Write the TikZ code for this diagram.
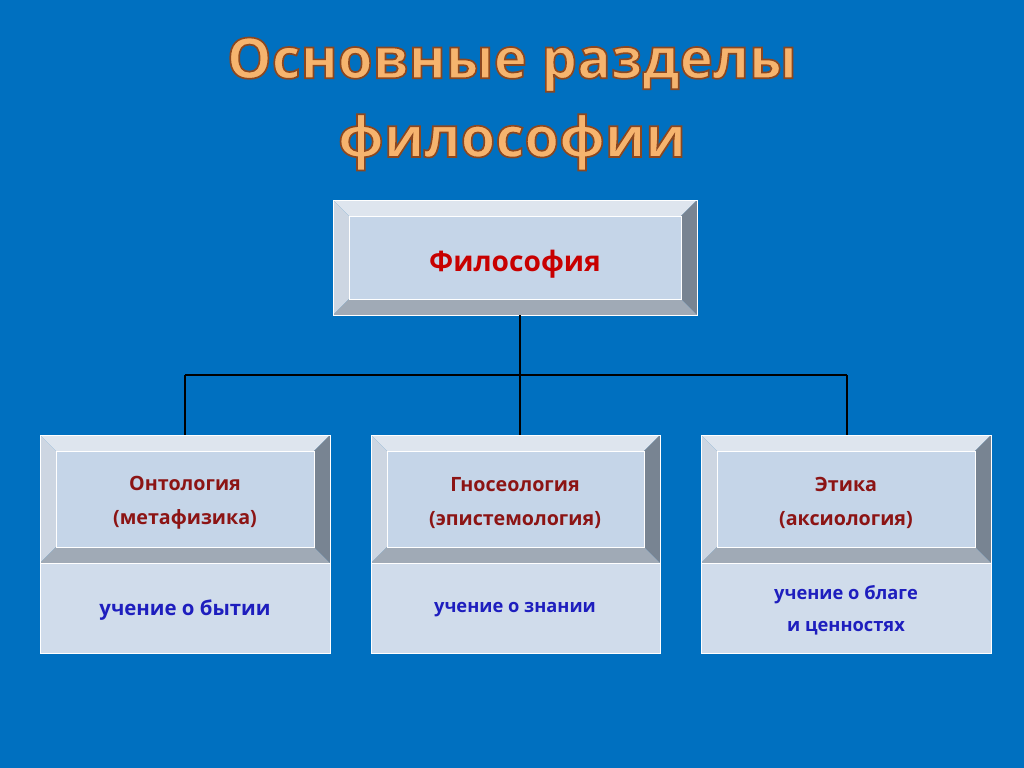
\documentclass[tikz,border=0pt]{standalone}
\usepackage{fontspec}
\setmainfont{Open Sans}
\usetikzlibrary{positioning}
\definecolor{bgblue}{RGB}{0,112,192}
\definecolor{face}{RGB}{197,213,232}
\definecolor{lower}{RGB}{208,220,235}
\definecolor{bvtop}{RGB}{222,229,238}
\definecolor{bvleft}{RGB}{205,214,226}
\definecolor{bvright}{RGB}{120,132,146}
\definecolor{bvbot}{RGB}{160,170,182}
\definecolor{headred}{RGB}{140,20,20}
\definecolor{redtext}{RGB}{200,0,0}
\definecolor{bluetext}{RGB}{30,30,190}
\definecolor{titleor}{RGB}{246,180,110}
\tikzset{
x=0.025cm, y=-0.025cm,
frame/.style={draw=none, inner sep=0pt, outer sep=0pt},
heading/.style={text=headred, font=\bfseries\fontsize{14}{24}\selectfont, align=center},
note/.style={text=bluetext, font=\bfseries\fontsize{13}{23}\selectfont, align=center},
link/.style={line width=1.6pt, black},
}
% outlined title text (fill + stroke)
\newcommand{\outlined}[1]{\special{pdf:literal direct 2 Tr 1.2 w 0.55 0.28 0.12 RG}#1\special{pdf:literal direct 0 Tr}}
% bevelled button: x1,y1,x2,y2,inset
\newcommand{\bevelbox}[5]{%
  \fill[bvtop] (#1,#2) -- (#3,#2) -- (#3-#5,#2+#5) -- (#1+#5,#2+#5) -- cycle;
  \fill[bvleft] (#1,#2) -- (#1+#5,#2+#5) -- (#1+#5,#4-#5) -- (#1,#4) -- cycle;
  \fill[bvright] (#3,#2) -- (#3,#4) -- (#3-#5,#4-#5) -- (#3-#5,#2+#5) -- cycle;
  \fill[bvbot] (#1,#4) -- (#3,#4) -- (#3-#5,#4-#5) -- (#1+#5,#4-#5) -- cycle;
  \fill[face] (#1+#5,#2+#5) rectangle (#3-#5,#4-#5);
  \draw[white, line width=0.6pt] (#1,#2) rectangle (#3,#4)
    (#1+#5,#2+#5) rectangle (#3-#5,#4-#5);
}
\begin{document}
\begin{tikzpicture}
\fill[bgblue] (0,0) rectangle (1024,768);
\useasboundingbox (0,0) rectangle (1024,768);

% title
\node[text=titleor, font=\bfseries\fontsize{40}{56}\selectfont, align=center]
  (title) at (512,104) {\outlined{Основные разделы}\\\outlined{философии}};

% root
\bevelbox{333}{200}{697}{315}{16}
\node[frame, minimum width=9.1cm, minimum height=2.875cm] (root) at (515,257.5) {};
\node[text=redtext, font=\bfseries\fontsize{20}{24}\selectfont] (rootlbl) at (515,264) {Философия};

% branches
\foreach \name/\xa/\xb/\cx in {onto/40/330/185, gno/371/660/515, eth/701/991/846}{
  \fill[lower] (\xa,563) rectangle (\xb,653);
  \draw[white, line width=0.6pt] (\xa,563) rectangle (\xb,653);
  \bevelbox{\xa}{435}{\xb}{563}{16}
  \node[frame, minimum width=7.25cm, minimum height=5.45cm] (\name) at (\cx,544) {};
}
\node[heading] (ontohead) at (185,503) {Онтология\\(метафизика)};
\node[heading] (gnohead) at (515,503) {Гносеология\\(эпистемология)};
\node[heading] (ethhead) at (846,503) {Этика\\(аксиология)};
\node[note, font=\bfseries\fontsize{14.5}{23}\selectfont] (ontonote) at (185,610) {учение о бытии};
\node[note] (gnonote) at (515,610) {учение о знании};
\node[note] (ethnote) at (846,610) {учение о благе\\и ценностях};

% connectors
\coordinate (hub) at (520,375);
\coordinate (hl) at (185,375);
\coordinate (hr) at (847,375);
\draw[link] (root.south -| hub) -- (gno.north -| hub);
\draw[link] (hl) -- (hr);
\draw[link] (hl) -- (onto.north -| hl);
\draw[link] (hr) -- (eth.north -| hr);
\end{tikzpicture}
\end{document}
